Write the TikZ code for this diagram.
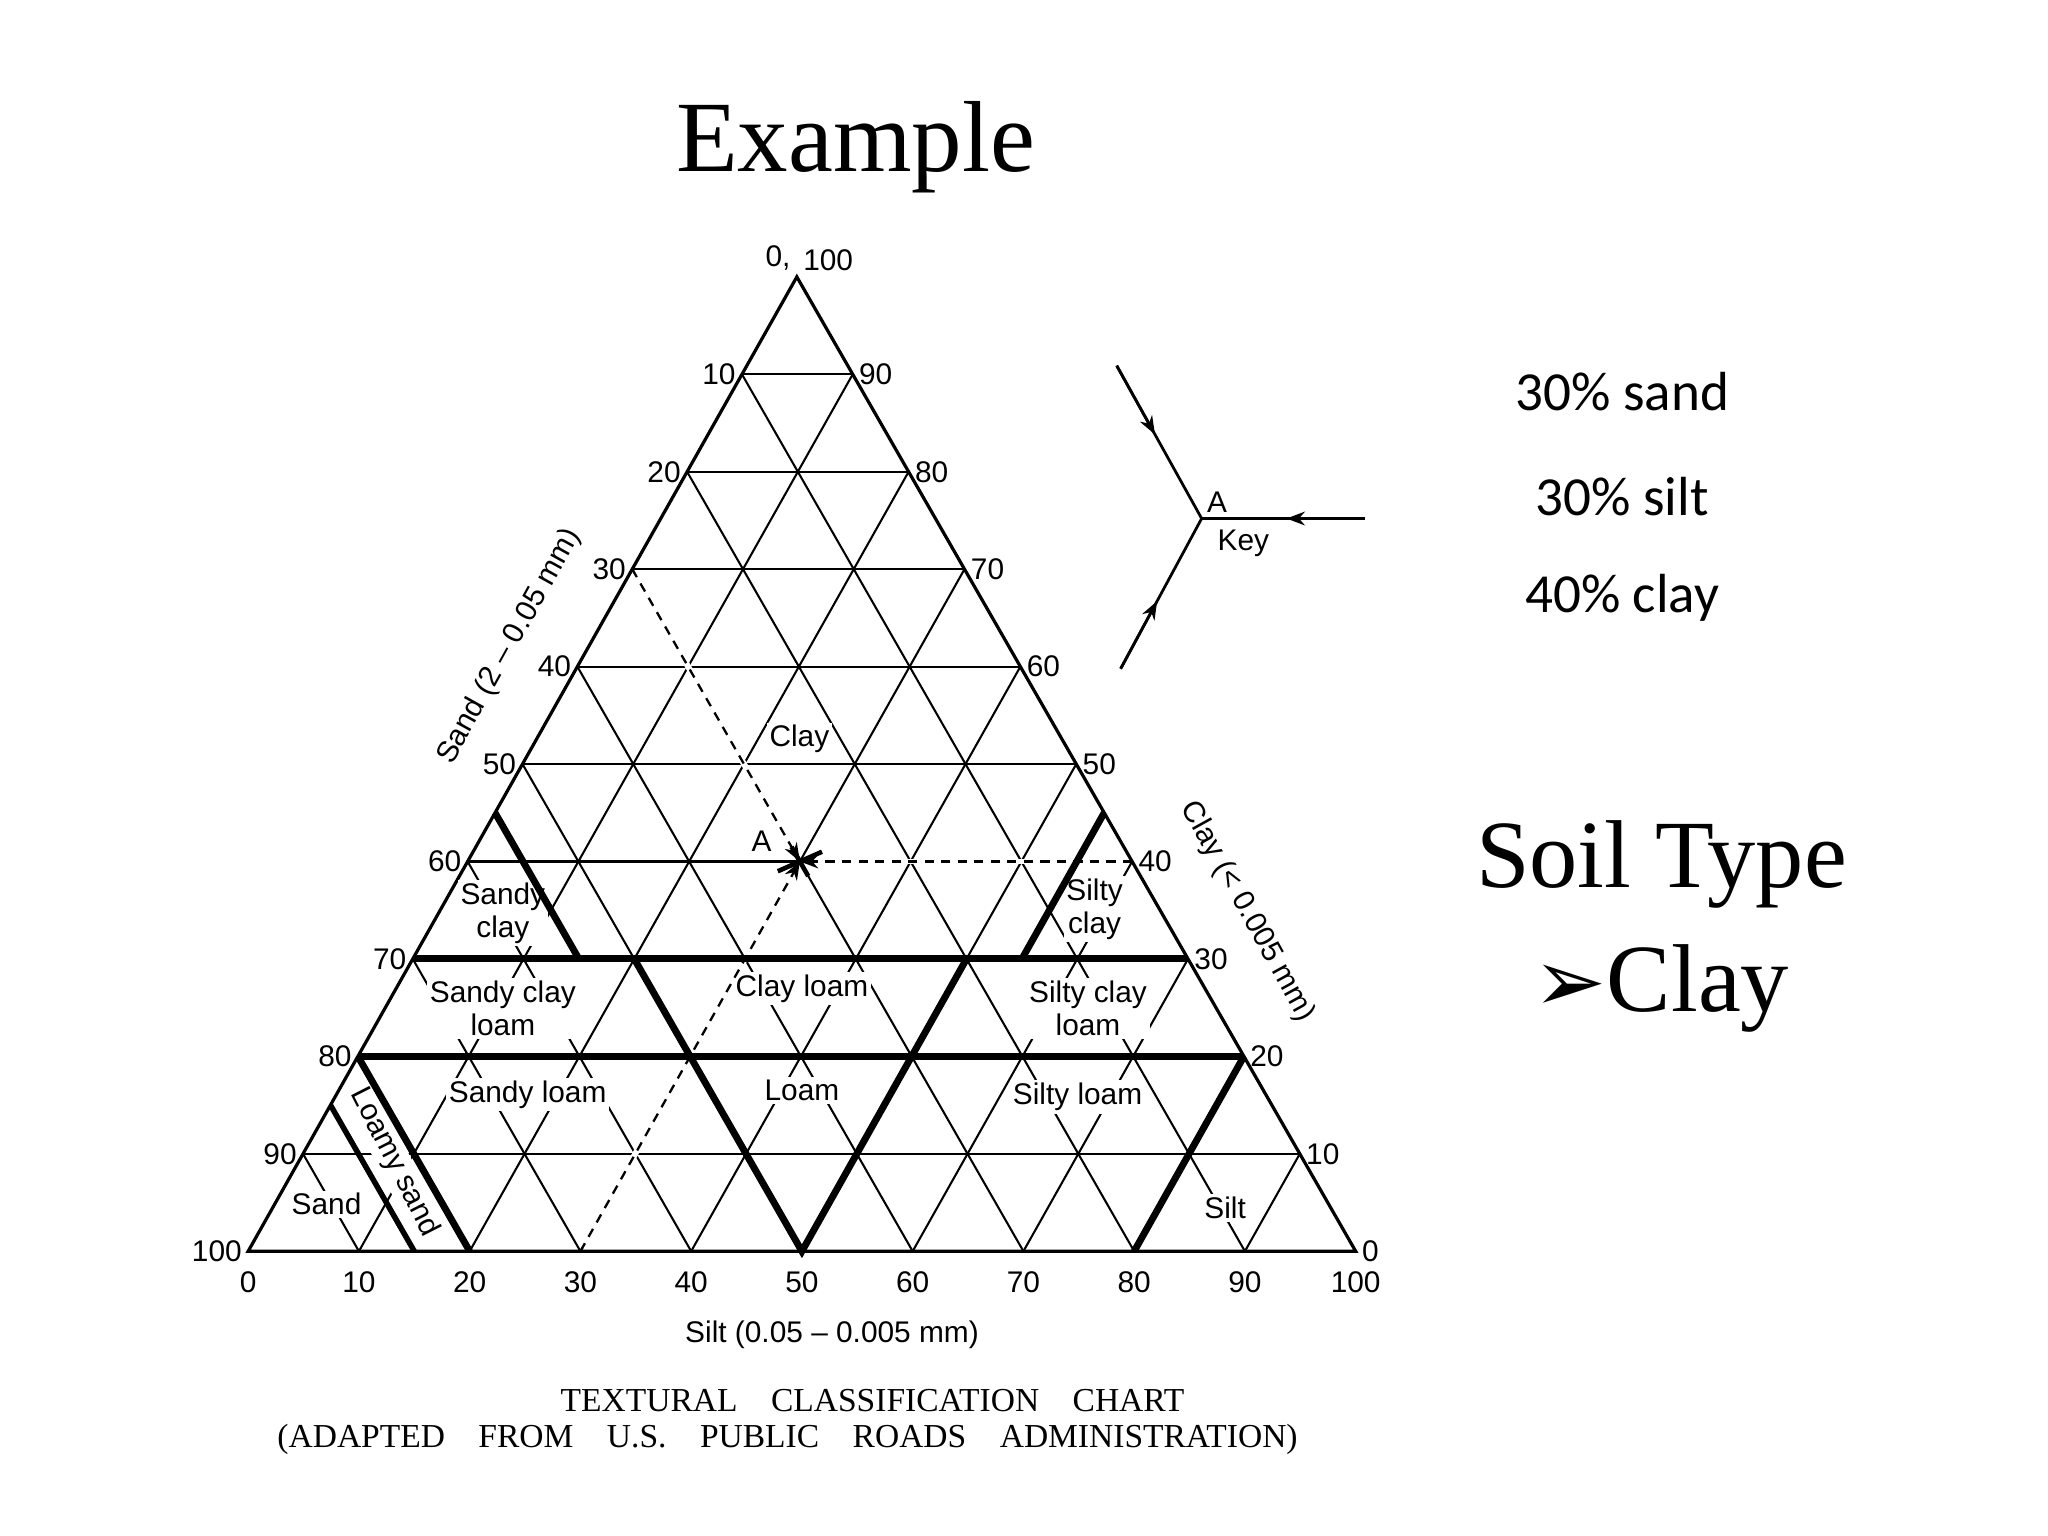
\documentclass[tikz,border=0pt]{standalone}
\usepackage{fontspec}
\setmainfont{Liberation Serif}
\newfontfamily\chartfont{Liberation Sans}
\newfontfamily\calib{Carlito}
\newfontfamily\dejav{DejaVu Sans}
\usetikzlibrary{arrows.meta,calc}
\begin{document}
\begin{tikzpicture}[
  grid/.style={line width=0.45pt},
  bound/.style={line width=1.5pt},
  tick/.style={font=\chartfont\fontsize{6.5}{7}\selectfont, inner sep=1.2pt},
  reg/.style={font=\chartfont\fontsize{6.5}{7.2}\selectfont, fill=white, inner sep=0.6pt, align=center},
  dsh/.style={line width=0.5pt, dash pattern=on 2pt off 1.6pt},
  arr/.style={-{Stealth[length=4pt,width=3pt]}}
]
\useasboundingbox (0,0) rectangle (15.68,11.76);
\fill[white] (0,0) rectangle (15.68,11.76);
\begin{scope}[shift={(1.9,2.18)}, x={(0.0848cm,0)}, y={(0.042cm,0.0746cm)}]
  \coordinate (BL) at (0,0); \coordinate (BR) at (100,0); \coordinate (T) at (0,100);
  \coordinate (A) at (30,40);
  \coordinate (Ls) at (0,70); \coordinate (Bs) at (30,0); \coordinate (Rs) at (60,40);
  \foreach \i in {1,...,9}{
    \pgfmathtruncatemacro\j{10*\i}
    \pgfmathtruncatemacro\k{100-10*\i}
    \draw[grid] (0,\j) -- (\k,\j);
    \draw[grid] (\j,0) -- (\j,\k);
    \draw[grid] (\j,0) -- (0,\j);
  }
  \draw[line width=0.7pt] (BL) -- (BR) -- (T) -- cycle;
  \foreach \s in {10,20,...,100}{
    \pgfmathtruncatemacro\v{100-\s}
    \node[tick, anchor=east] at (0,\v) {\s};
  }
  \foreach \c in {0,10,...,90}{
    \pgfmathtruncatemacro\u{100-\c}
    \node[tick, anchor=west] at (\u,\c) {\c};
  }
  \foreach \u in {0,10,...,100}{
    \node[tick, anchor=north, yshift=-3pt] at (\u,0) {\u};
  }
  \node[tick, anchor=south east] at (T) {0,};
  \node[tick, anchor=south west] at (T) {100};
  % remove grid under dashed guides
  \draw[white, line width=1.3pt, shorten <=1pt, shorten >=1pt] (Ls) -- (A);
  \draw[white, line width=1.3pt, shorten <=1pt, shorten >=1pt] (Bs) -- (A);
  \draw[white, line width=1.3pt, shorten <=1pt, shorten >=1pt] (Rs) -- (A);
\end{scope}
\node[reg] (lclay) at (6.12,6.10) {Clay};
\node[reg] (lsc) at (3.85,4.77) {Sandy\\clay};
\node[reg] (lsic) at (8.38,4.80) {Silty\\clay};
\node[reg] (lscl) at (3.85,4.04) {Sandy clay\\loam};
\node[reg] (lcl) at (6.14,4.19) {Clay loam};
\node[reg] (lsicl) at (8.33,4.04) {Silty clay\\loam};
\node[reg] (lsl) at (4.04,3.38) {Sandy loam};
\node[reg] (lloam) at (6.14,3.41) {Loam};
\node[reg] (lsil) at (8.25,3.36) {Silty loam};
\node[reg] (lsand) at (2.50,2.54) {Sand};
\node[reg, rotate=-63] (lls) at (3.02,2.86) {Loamy sand};
\node[reg] (lsilt) at (9.38,2.51) {Silt};
\node[reg, fill=none] (lA) at (5.83,5.32) {A};
\begin{scope}[shift={(1.9,2.18)}, x={(0.0848cm,0)}, y={(0.042cm,0.0746cm)}]
  \draw[bound] (0,30) -- (70,30);
  \draw[bound] (0,20) -- (80,20);
  \draw[bound] (0,45) -- (15,30);
  \draw[bound] (55,45) -- (55,30);
  \draw[bound] (20,30) -- (50,0) -- (50,30);
  \draw[bound] (80,20) -- (80,0);
  \draw[bound] (0,20) -- (20,0);
  \draw[line width=1.2pt] (0,15) -- (15,0);
  \draw[dsh, arr] (Ls) -- (A);
  \draw[dsh, arr] (Bs) -- (A);
  \draw[dsh, arr] (Rs) -- (A);
  \draw[line width=1pt] ($(A)+(-1.5,-1)$) -- ($(A)+(1.5,1)$);
  \draw[line width=1pt] ($(A)+(-1.5,1.5)$) -- ($(A)+(1.5,-1.5)$);
\end{scope}
\node[font=\chartfont\fontsize{6.5}{7}\selectfont, rotate=61] (tsand) at (3.90,6.81) {Sand (2 – 0.05 mm)};
\node[font=\chartfont\fontsize{6.5}{7}\selectfont, rotate=-61] (tclay) at (9.55,4.78) {Clay (< 0.005 mm)};
\node[font=\chartfont\fontsize{6.5}{7}\selectfont] (tsilt) at (6.37,1.54) {Silt (0.05 – 0.005 mm)};
\node[font=\fontsize{7.3}{8}\selectfont] (cap1) at (6.68,1.04) {TEXTURAL\ \ \ \ CLASSIFICATION\ \ \ \ CHART};
\node[font=\fontsize{7.3}{8}\selectfont] (cap2) at (6.03,0.74) {(ADAPTED\ \ \ \ FROM\ \ \ \ U.S.\ \ \ \ PUBLIC\ \ \ \ ROADS\ \ \ \ ADMINISTRATION)};
\coordinate (K1) at (8.55,8.96);
\coordinate (KA) at (9.20,7.79);
\coordinate (K3) at (8.58,6.64);
\coordinate (K4) at (10.45,7.79);
\draw[line width=0.6pt] (K1) -- (KA) -- (K3);
\draw[line width=0.6pt] (K4) -- (KA);
\draw[line width=0.6pt, arr] (K1) -- ($(K1)!0.45!(KA)$);
\draw[line width=0.6pt, arr] (K3) -- ($(K3)!0.45!(KA)$);
\draw[line width=0.6pt, arr] (K4) -- ($(K4)!0.48!(KA)$);
\node[font=\chartfont\fontsize{6.5}{7}\selectfont, anchor=south west, inner sep=1pt] (kA) at (KA) {A};
\node[font=\chartfont\fontsize{6.5}{7}\selectfont] (kKey) at (9.52,7.60) {Key};
\node[font=\fontsize{22}{25}\selectfont] (title) at (6.55,10.63) {Example};
\node[font=\calib\fontsize{12}{14}\selectfont] (t1) at (12.42,8.76) {30\% sand};
\node[font=\calib\fontsize{12}{14}\selectfont] (t2) at (12.42,7.96) {30\% silt};
\node[font=\calib\fontsize{12}{14}\selectfont] (t3) at (12.42,7.18) {40\% clay};
\node[font=\fontsize{21}{24}\selectfont] (st) at (12.72,5.14) {Soil Type};
\node[font=\fontsize{21}{24}\selectfont] (sc) at (12.72,4.19) {{\dejav\fontsize{19}{22}\selectfont ➢}Clay};
\end{tikzpicture}
\end{document}
